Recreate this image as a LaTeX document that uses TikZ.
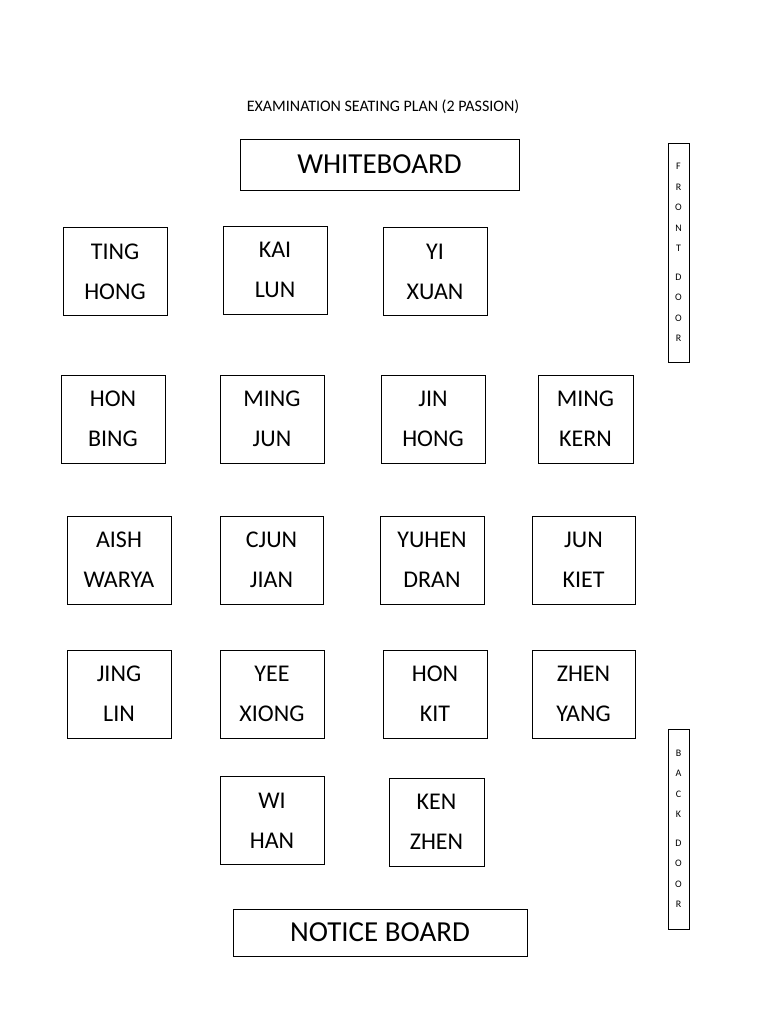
\documentclass[tikz,border=0pt]{standalone}
\usepackage{fontspec}
\setmainfont{Carlito}
\begin{document}
\begin{tikzpicture}[x=1pt,y=-1pt,
  seat/.style={draw, line width=0.8pt, align=center, font=\fontsize{24}{40}\selectfont},
  board/.style={draw, line width=0.8pt, font=\fontsize{29}{32}\selectfont},
  door/.style={draw, line width=0.8pt, align=center, font=\fontsize{10}{20.5}\selectfont, inner sep=0pt}
  ]
  \useasboundingbox (0,0) rectangle (768,1024);

  \node at (383,107) (title) {\fontsize{16}{18}\selectfont EXAMINATION SEATING PLAN (2 PASSION)};
  \node [board, minimum width=279, minimum height=51] at (379.5,164.5) (wb) {WHITEBOARD};
  \node [board, minimum width=294, minimum height=47] at (380,932.5) (nb) {NOTICE BOARD};

  \node [door, minimum width=21, minimum height=219] at (678.5,252.5) (front) {F\\R\\O\\N\\T\\[8pt]D\\O\\O\\R};
  \node [door, minimum width=21, minimum height=200] at (678.5,829) (back) {B\\A\\C\\K\\[8pt]D\\O\\O\\R};

  % seats: x/y centre, width, names
  \foreach \x/\y/\w/\a/\b [count=\i] in {
    115/271.5/104/TING/HONG, 275/270/104/KAI/LUN, 435/271.5/104/YI/XUAN,
    113/419/104/HON/BING, 272/419/104/MING/JUN, 433/419/104/JIN/HONG, 585.5/419/95/MING/KERN,
    119/560/104/AISH/WARYA, 271.5/560/103/CJUN/JIAN, 432/560/104/YUHEN/DRAN, 583.5/560/103/JUN/KIET,
    119/694/104/JING/LIN, 272/694/104/YEE/XIONG, 435/694/104/HON/KIT, 583.5/694/103/ZHEN/YANG,
    272/820.5/104/WI/HAN, 436.5/822/95/KEN/ZHEN}{
    \node [seat, minimum width=\w, minimum height=88] at (\x,\y) (s\i) {\a\\\b};
  }
\end{tikzpicture}
\end{document}
